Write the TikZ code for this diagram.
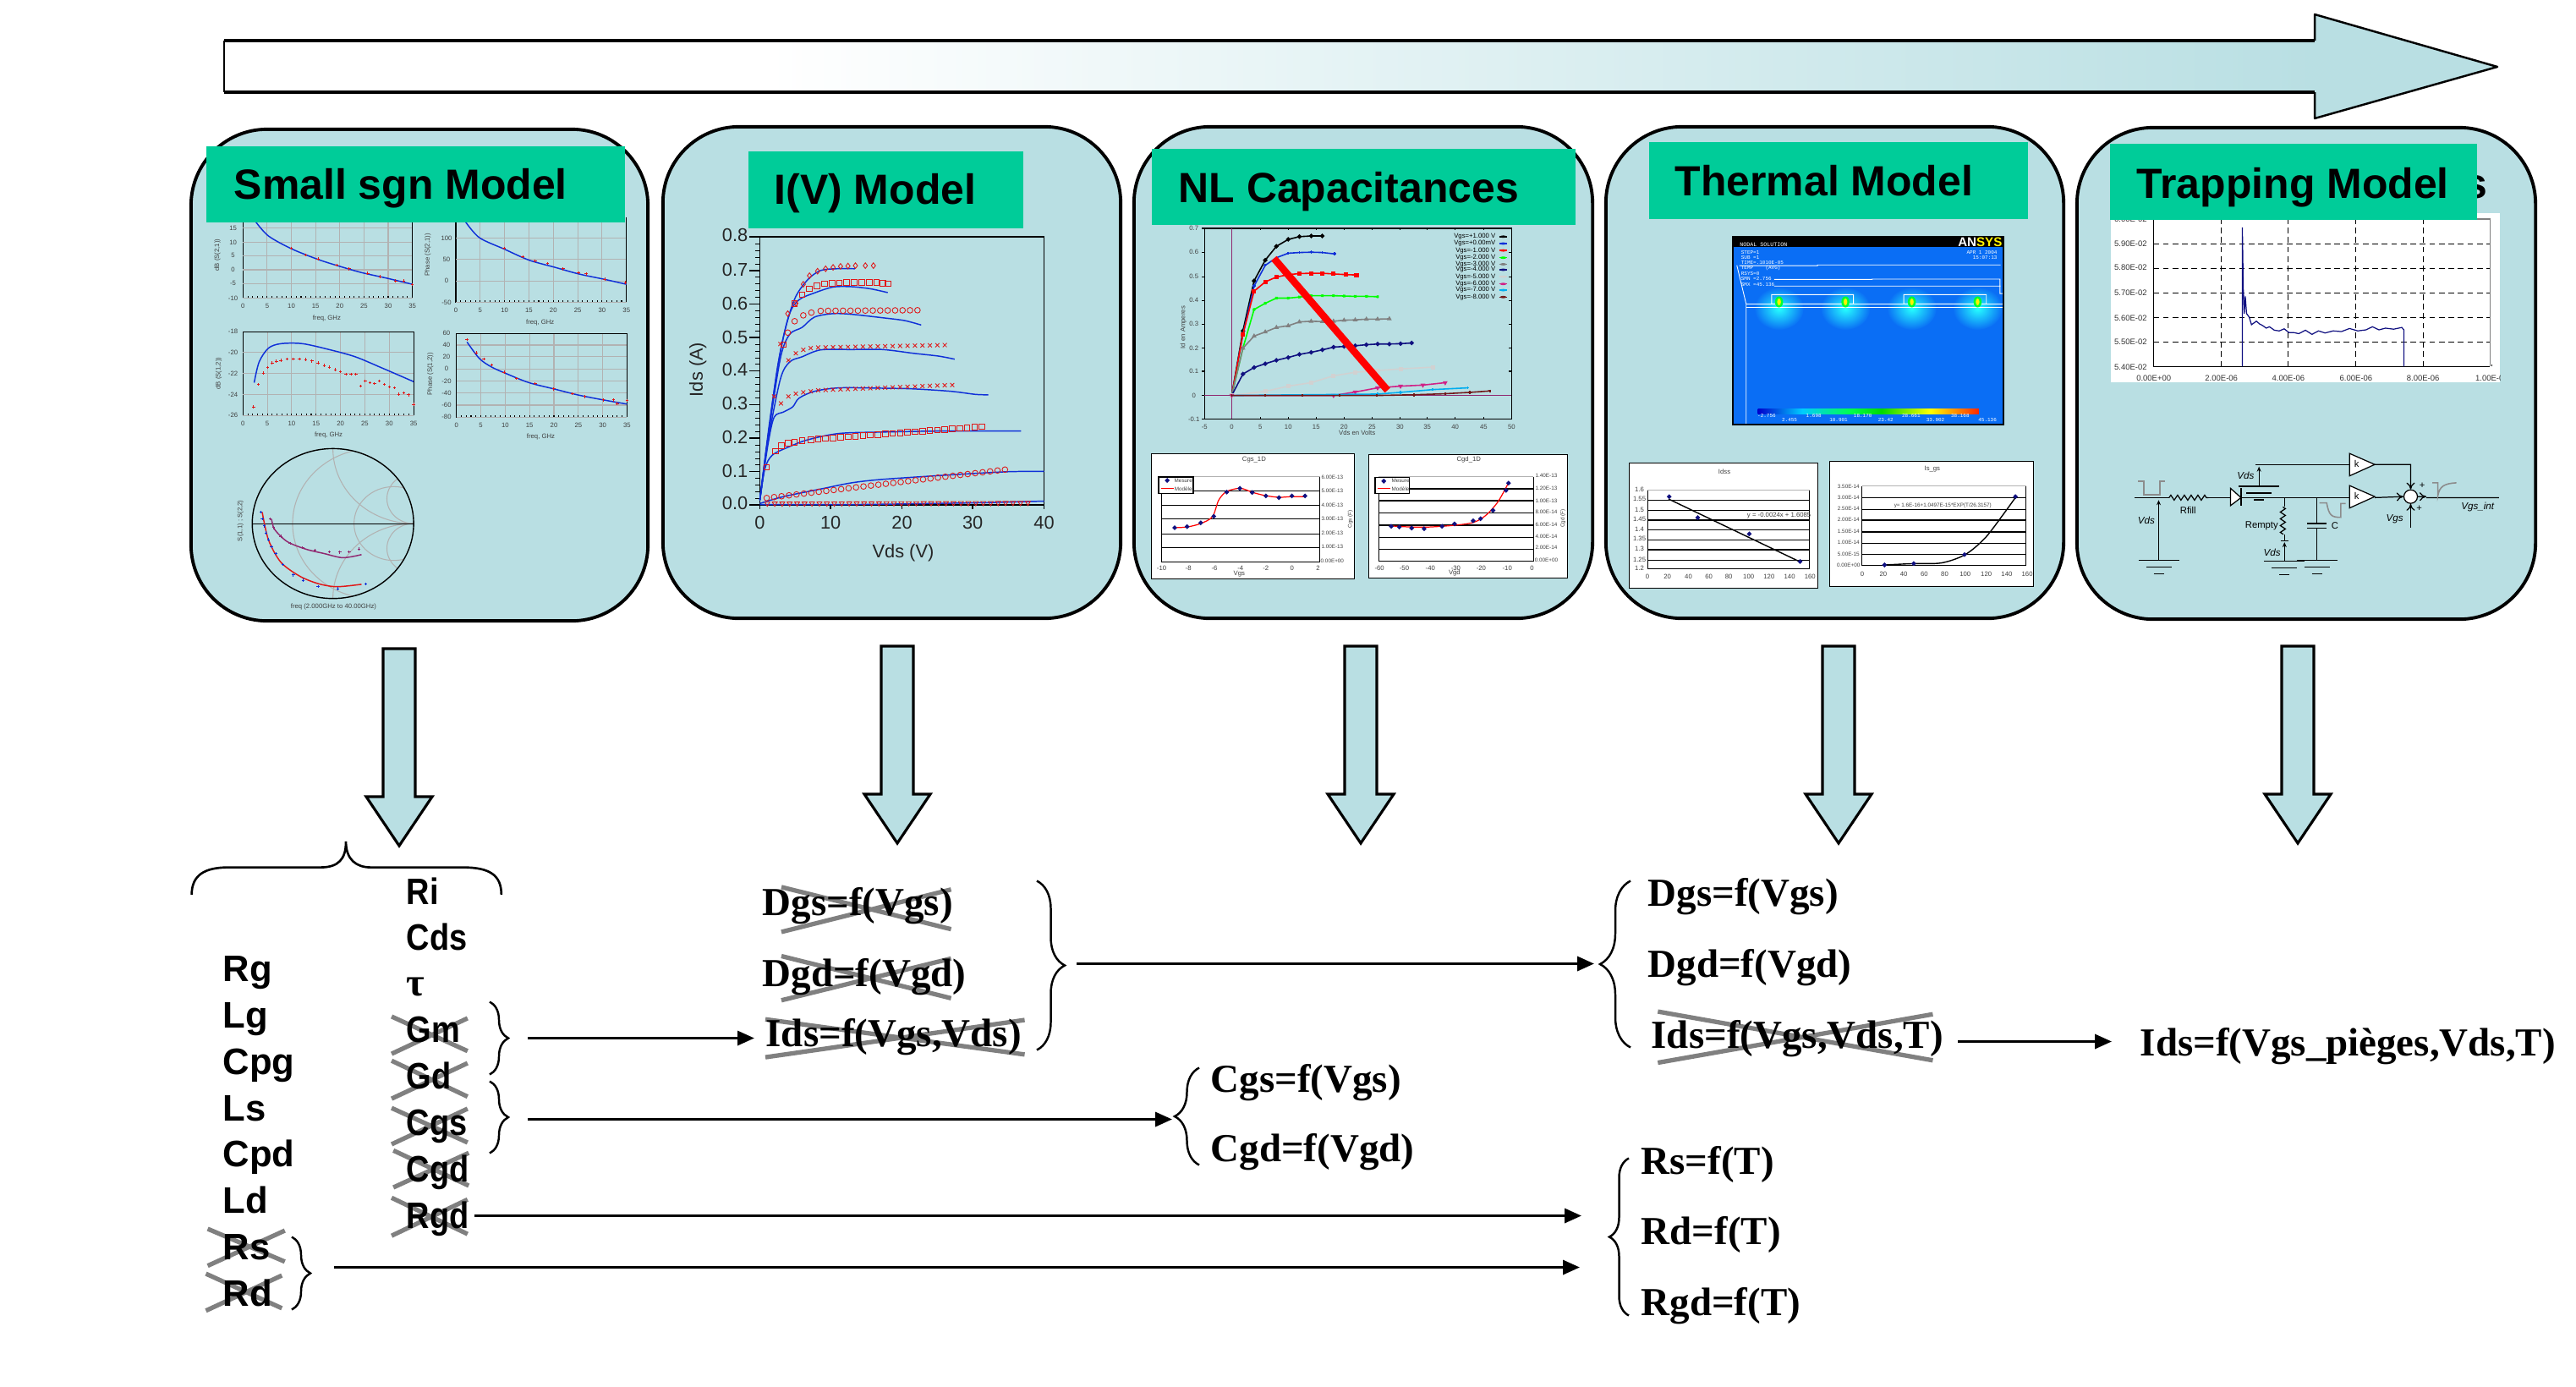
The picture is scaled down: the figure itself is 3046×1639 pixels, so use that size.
\documentclass[tikz,border=0pt]{standalone}
\usepackage{fontspec}
\setmainfont{Liberation Sans}
\setmonofont{Liberation Mono}
\newfontfamily\eqfont{Liberation Serif}
\usetikzlibrary{arrows.meta, plotmarks, decorations.pathreplacing, decorations.pathmorphing}

\definecolor{panelblue}{HTML}{B9DFE3}
\definecolor{titlegreen}{HTML}{00CC99}
\definecolor{curveblue}{HTML}{1030D8}
\definecolor{markred}{HTML}{E01818}
\definecolor{crossgray}{HTML}{808080}
\definecolor{ansysblue}{HTML}{0A6EF5}
\definecolor{navycurve}{HTML}{101080}
\definecolor{browncurve}{HTML}{701818}
\definecolor{purplecurve}{HTML}{902870}
\pgfdeclarehorizontalshading{ansysbar}{100bp}{color(0bp)=(blue!80!black); color(25bp)=(blue!80!black);
  color(35bp)=(cyan!80!blue); color(46bp)=(green!70!cyan); color(53bp)=(green!85!black); color(64bp)=(yellow); color(75bp)=(red!85!yellow); color(100bp)=(red)}

\begin{document}
\begin{tikzpicture}[
    x=.01cm, y=-.01cm,
    >=Stealth,
    line cap=butt,
    modelbox/.style={draw=black, fill=panelblue, line width=1.1pt, rounded corners=.9cm, inner sep=0pt},
    blockarrow/.style={draw=black, fill=panelblue, line width=.9pt, line join=miter},
    titletxt/.style={anchor=base west, inner sep=0pt, font=\fontsize{14.2}{16}\selectfont\bfseries},
    paramtxt/.style={anchor=base west, inner sep=0pt, font=\fontsize{12.4}{14}\selectfont\bfseries},
    paramnarrow/.style={paramtxt, xscale=.87, transform shape},
    eqtxt/.style={anchor=base west, inner sep=0pt, font=\eqfont\fontsize{13.35}{15}\selectfont\bfseries},
    crossline/.style={draw=crossgray, line width=1.5pt},
    flowarrow/.style={-{Triangle[length=.2cm,width=.17cm]}, line width=.95pt},
    curlybrace/.style={decorate, decoration={brace, amplitude=#1}, line width=.7pt},
    % scopes whose coordinates are read straight off the enlarged crops
    zoomA/.style={shift={(200,130)}, xscale=.7337, yscale=.4082},
    zoomB/.style={shift={(1320,130)}, xscale=.7337, yscale=.4082},
    zoomC/.style={shift={(2440,130)}, xscale=.3865, yscale=.4082},
    zoomD/.style={shift={(200,980)}, xscale=.7015, yscale=.4082},
    zoomE/.style={shift={(1300,1000)}, xscale=1.1135, yscale=.3954},
    % undoes the scale of zoomA and zoomB on plot marks
    markfix/.style={xscale=1.363, yscale=2.45},
    ticktxt/.style={inner sep=0pt, text=black!75, font=\fontsize{2.2}{2.6}\selectfont},
    charttick/.style={ticktxt, font=\fontsize{1.8}{2.2}\selectfont},
    gridgray/.style={draw=black!30, line width=.3pt},
    axisline/.style={draw=black, line width=.3pt},
    sline/.style={draw=curveblue, line width=.42pt},
    redplus/.style={draw=markred, line width=.25pt, mark size=.5pt, mark options={markfix}},
    ivmark/.style={color=markred, line width=.25pt, mark size=.95pt, mark options={markfix}},
    ivlabel/.style={inner sep=0pt, text=black!85, font=\fontsize{6.2}{7}\selectfont},
    nlcurve/.style={line width=.45pt, mark size=.5pt, mark options={markfix}},
    whitechart/.style={draw=black, fill=white, line width=.35pt},
    chartline/.style={draw=black, line width=.4pt},
    chartdot/.style={color=navycurve, mark size=.55pt, mark options={markfix}},
    circuitline/.style={draw=black, line width=.35pt},
    circuittxt/.style={inner sep=0pt, font=\fontsize{3.2}{4}\selectfont},
    gndsym/.pic={\draw[circuitline] (-24,0) -- (24,0) (-15,8) -- (15,8) (-6,16) -- (6,16);}
]
\useasboundingbox (0,0) rectangle (3046,1639);

% Big arrow on top
\fill[white] (265,48) rectangle (908,109);
\shade[left color=white, right color=panelblue] (908,48) rectangle (2737,109);
\fill[panelblue] (2737,17) -- (2953,79) -- (2737,140) -- cycle;
\draw[line width=1pt, line join=round] (2737,48) -- (265,48) (265,109) -- (2737,109);
\draw[line width=.3pt] (265,48) -- (265,109);
\draw[line width=.7pt, line join=round] (2737,48) -- (2737,17) -- (2953,79) -- (2737,140) -- (2737,109);

% Model panels
\foreach \nm/\cx/\cy/\bw/\bh in {S/496/443.5/5.40/5.81, V/1054.5/440.5/5.41/5.81, C/1612/440.5/5.42/5.81, T/2169.5/440.5/5.41/5.81, P/2727/441.5/5.42/5.81}
    \node[modelbox, minimum width=\bw cm, minimum height=\bh cm] (box\nm) at (\cx,\cy) {};

% Arrows under the panels
\foreach \ax/\ay/\by in {472/767/1000, 1061/764/997, 1609/764/997, 2174/764/997, 2717/764/997}
    \draw[blockarrow] ({\ax-19},\ay) -- ({\ax+19},\ay) -- ({\ax+19},{\by-58}) -- ({\ax+39},{\by-58})
        -- (\ax,\by) -- ({\ax-39},{\by-58}) -- ({\ax-19},{\by-58}) -- cycle;

% Small signal plots
\begin{scope}[zoomA]
    \foreach \xl/\xr/\yt/\yb/\tag/\flab in {119/392/310/545/a/254, 462/737/310/557/b/598, 119/394/642/885/c/257, 463/738/647/890/d/599} {
        \foreach \i in {0,...,7}
            \draw[gridgray] ({\xl+\i*(\xr-\xl)/7},\yt) -- ({\xl+\i*(\xr-\xl)/7},\yb);
        \draw[axisline] (\xl,\yt) -- (\xl,\yb) -- (\xr,\yb);
        \foreach \i in {0,...,35}
            \draw[axisline] ({\xl+\i*(\xr-\xl)/35},\yb) -- ++(0,-6);
        \foreach \v [count=\i from 0] in {0,5,...,35}
            \node[ticktxt] (tk\tag\i) at ({\xl+\i*(\xr-\xl)/7},{\yb+24}) {\v};
        \node[ticktxt] (freq\tag) at (\flab,{\yb+58}) {freq, GHz};
    }
    \foreach \v/\yy [count=\i] in {15/342, 10/383, 5/422, 0/463, -5/503, -10/545} {
        \draw[gridgray] (119,\yy) -- (392,\yy);
        \node[ticktxt] (lba\i) at (103,\yy) {\v};
    }
    \foreach \v/\yy [count=\i] in {100/372, 50/433, 0/495, -50/557} {
        \draw[gridgray] (462,\yy) -- (737,\yy);
        \node[ticktxt] (lbb\i) at (447,\yy) {\v};
    }
    \foreach \v/\yy [count=\i] in {-18/642, -20/702, -22/763, -24/824, -26/885} {
        \draw[gridgray] (119,\yy) -- (394,\yy);
        \node[ticktxt] (lbc\i) at (103,\yy) {\v};
    }
    \foreach \v/\yy [count=\i] in {60/647, 40/681, 20/715, 0/750, -20/786, -40/820, -60/855, -80/890} {
        \draw[gridgray] (463,\yy) -- (738,\yy);
        \node[ticktxt] (lbd\i) at (447,\yy) {\v};
    }
    \draw[axisline] (392,310) -- (392,545) (737,310) -- (737,557) (119,642) -- (394,642) -- (394,885) (463,647) -- (738,647) -- (738,890);
    \node[ticktxt, rotate=90] (ylaba) at (78,420) {dB (S(2,1))};
    \node[ticktxt, rotate=90] (ylabb) at (417,420) {Phase (S(2,1))};
    \node[ticktxt, rotate=90] (ylabc) at (80,763) {dB (S(1,2))};
    \node[ticktxt, rotate=90] (ylabd) at (421,765) {Phase (S(1,2))};

    \draw[sline] plot[smooth] coordinates {(140,325) (160,365) (197,402) (240,433) (275,453) (310,471) (350,487) (392,505)};
    \draw[redplus] plot[only marks, mark=+] coordinates {(197,400) (220,420) (240,431) (270,450) (290,460) (320,473) (340,483) (365,495) (378,495) (392,506)};
    \draw[sline] plot[smooth] coordinates {(478,325) (500,370) (540,403) (580,435) (620,455) (660,475) (700,490) (737,505)};
    \draw[redplus] plot[only marks, mark=+] coordinates {(540,400) (570,425) (590,437) (610,445) (635,460) (660,472) (672,475) (702,490) (735,500)};
    \draw[sline] plot[smooth] coordinates {(137,790) (145,730) (160,690) (180,677) (215,677) (260,695) (300,715) (340,745) (394,787)};
    \draw[redplus] plot[only marks, mark=+] coordinates {(136,860) (144,795) (152,762) (159,746) (166,733) (173,728) (180,725) (190,722) (200,722) (210,722) (220,723) (230,727) (240,733) (250,740) (258,745) (268,752) (276,758) (285,765) (293,765) (301,765) (309,800) (316,785) (324,790) (331,793) (339,785) (347,795) (355,802) (363,805) (370,823) (378,820) (386,825) (394,853)};
    \draw[sline] plot[smooth] coordinates {(480,672) (500,720) (520,745) (545,765) (580,790) (620,808) (660,826) (700,840) (738,852)};
    \draw[redplus] plot[only marks, mark=+] coordinates {(480,665) (495,703) (507,722) (520,738) (540,760) (560,778) (590,793) (620,808) (650,822) (670,830) (700,840) (716,840) (722,850) (738,841)};

    % Smith chart
    \begin{scope}
        \clip (264,1198) ellipse [x radius=1.3cm, y radius=2.17cm];
        \foreach \dx in {65,97,32}
            \draw[gridgray] ({394-\dx},1198) ellipse [x radius=\dx*.02cm, y radius=\dx*.0334cm];
        \foreach \sgn in {-1,1} {
            \draw[gridgray] (394,{1198+\sgn*217}) ellipse [x radius=1.3cm, y radius=2.17cm];
            \draw[gridgray] (394,{1198+\sgn*72}) ellipse [x radius=.43cm, y radius=.72cm];
        }
    \end{scope}
    \draw[line width=.4pt] (264,1198) ellipse [x radius=1.3cm, y radius=2.17cm];
    \draw[line width=.3pt] (134,1198) -- (394,1198);
    \draw[draw=markred, line width=.42pt] plot[smooth] coordinates {(150,1165) (160,1245) (180,1310) (210,1350) (240,1372) (270,1381) (310,1374)};
    \draw[draw=purplecurve, line width=.42pt] plot[smooth] coordinates {(165,1185) (170,1215) (190,1250) (220,1272) (250,1285) (280,1297) (310,1288)};
    \draw[redplus, draw=curveblue] plot[only marks, mark=+] coordinates {(148,1165) (150,1185) (153,1205) (156,1225) (160,1245) (165,1265) (172,1285) (183,1317) (200,1347) (216,1362) (240,1380) (272,1387) (317,1373)};
    \draw[redplus, draw=purplecurve] plot[only marks, mark=+] coordinates {(163,1185) (168,1210) (180,1235) (195,1255) (215,1268) (235,1275) (258,1280) (275,1281) (290,1280) (306,1272)};
    \node[ticktxt, rotate=90] (ylabsm) at (115,1190) {S(1,1) ; S(2,2)};
    \node[ticktxt] (freqsm) at (265,1438) {freq (2.000GHz to 40.00GHz)};
\end{scope}

% I(V) plot
\begin{scope}[zoomA]
    \draw[line width=.3pt] (952,368) -- (952,1145) (1410,368) -- (1410,1145);
    \draw[line width=.6pt] (935,368) -- (1410,368) (935,1145) -- (1410,1145);
    \foreach \v/\yy [count=\i] in {0.8/363, 0.7/462, 0.6/560, 0.5/658, 0.4/753, 0.3/850, 0.2/948, 0.1/1045, 0.0/1140} {
        \node[ivlabel] (ivy\i) at (912,\yy) {\v};
        \draw[line width=.4pt] (935,{368+(\i-1)*97.1}) -- (952,{368+(\i-1)*97.1});
    }
    \foreach \i in {0,...,40}
        \draw[line width=.25pt] (944,{368+\i*19.43}) -- (952,{368+\i*19.43});
    \foreach \v/\xx [count=\i] in {0/952, 10/1066, 20/1181, 30/1295, 40/1410} {
        \node[ivlabel] (ivx\i) at (\xx,1195) {\v};
        \draw[line width=.4pt] (\xx,1145) -- (\xx,1156);
    }
    \node[ivlabel] (vdslab) at (1183,1283) {Vds (V)};
    \node[ivlabel, rotate=90] (idslab) at (852,752) {Ids (A)};

    \draw[sline] plot[smooth] coordinates {(952,1130) (965,950) (980,750) (995,620) (1010,540) (1030,490) (1050,465) (1075,460) (1105,460)};
    \draw[sline] plot[smooth] coordinates {(952,1130) (968,900) (985,700) (1000,590) (1015,550) (1040,530) (1070,513) (1100,512) (1130,518) (1158,529)};
    \draw[sline] plot[smooth] coordinates {(952,1130) (965,950) (985,720) (1000,650) (1020,630) (1040,600) (1070,590) (1100,592) (1150,602) (1185,610) (1212,623)};
    \draw[sline] plot[smooth] coordinates {(952,1130) (965,960) (985,780) (1000,730) (1020,715) (1050,695) (1100,694) (1150,694) (1200,705) (1240,713) (1266,722)};
    \draw[sline] plot[smooth] coordinates {(952,1130) (965,970) (975,890) (990,875) (1005,860) (1015,835) (1040,815) (1080,805) (1150,806) (1200,808) (1260,815) (1300,824) (1320,825)};
    \draw[sline] plot[smooth] coordinates {(952,1130) (960,1040) (972,1000) (1000,975) (1030,955) (1080,937) (1150,933) (1250,930) (1373,930)};
    \draw[sline] plot[smooth] coordinates {(952,1140) (990,1120) (1050,1098) (1100,1080) (1150,1070) (1250,1058) (1350,1048) (1410,1047)};
    \draw[sline] plot[smooth] coordinates {(952,1143) (1100,1143) (1300,1138) (1410,1133)};

    \draw[ivmark] plot[only marks, mark=diamond] coordinates {(997,590) (1010,560) (1022,505) (1032,480) (1045,467) (1058,460) (1070,456) (1082,453) (1094,452) (1106,451) (1122,451) (1135,451)};
    \draw[ivmark] plot[only marks, mark=square] coordinates {(990,680) (1008,560) (1020,535) (1032,518) (1044,510) (1056,503) (1068,502) (1080,501) (1092,500) (1104,499) (1116,499) (1128,499) (1140,500) (1150,502) (1158,503)};
    \draw[ivmark] plot[only marks, mark=o] coordinates {(997,645) (1008,612) (1022,595) (1035,587)};
    \draw[ivmark] plot[only marks, mark=o, samples at={1050,1062,...,1215}] (\x,{582-(\x-1050)*.012});
    \draw[ivmark] plot[only marks, mark=x] coordinates {(985,678) (998,725) (1010,705) (1022,695) (1034,690)};
    \draw[ivmark] plot[only marks, mark=x, samples at={1046,1058,...,1250}] (\x,{688-(\x-1046)*.034});
    \draw[ivmark] plot[only marks, mark=x] coordinates {(975,830) (986,850) (998,830) (1010,822) (1022,818) (1034,815)};
    \draw[ivmark] plot[only marks, mark=x, samples at={1046,1058,...,1272}] (\x,{812-(\x-1046)*.071});
    \draw[ivmark] plot[only marks, mark=square] coordinates {(963,1035) (977,988) (987,972) (998,965) (1008,962) (1020,958)};
    \draw[ivmark] plot[only marks, mark=square, samples at={1034,1046,...,1318}] (\x,{955-(\x-1034)*.137});
    \draw[ivmark] plot[only marks, mark=o, samples at={963,975,...,1355}] (\x,{1124-(\x-963)*.214});
    \draw[ivmark] plot[only marks, mark=triangle, mark options={markfix, rotate=180}, samples at={964,976,...,1385}] (\x,{1140-(\x-964)*.005});
\end{scope}

% NL capacitance plots
\begin{scope}[zoomB]
    \draw[axisline] (142,343) rectangle (637,895);
    \foreach \v/\yy [count=\i] in {0.7/343, 0.6/412, 0.5/483, 0.4/552, 0.3/620, 0.2/690, 0.1/757, 0/827, -0.1/895} {
        \node[ticktxt] (nly\i) at (125,\yy) {\v};
        \draw[axisline] (142,\yy) -- ++(-4,0) (637,\yy) -- ++(-4,0);
    }
    \foreach \v/\xx [count=\i] in {-5/142, 0/186, 5/232, 10/277, 15/322, 20/367, 25/412, 30/457, 35/501, 40/546, 45/592, 50/637} {
        \node[ticktxt] (nlx\i) at (\xx,918) {\v};
        \draw[axisline] (\xx,895) -- ++(0,-5) (\xx,343) -- ++(0,5);
    }
    \node[ticktxt] (nlxlab) at (388,935) {Vds en Volts};
    \node[ticktxt, rotate=90] (nlylab) at (108,630) {Id en Amperes};
    \draw[draw=purplecurve, line width=.35pt] (186,343) -- (186,895) (142,827) -- (637,827);

    \draw[nlcurve, color=black] plot[mark=*] coordinates {(186,827) (204,640) (222,495) (240,435) (258,395) (277,375) (295,367) (314,365) (332,365)};
    \draw[nlcurve, color=curveblue] plot[mark=+] coordinates {(186,827) (204,650) (222,510) (240,450) (258,428) (277,415) (295,413) (314,412) (332,413) (352,417)};
    \draw[nlcurve, color=red] plot[mark=square*] coordinates {(186,827) (204,650) (222,525) (240,498) (258,484) (277,477) (295,474) (314,473) (332,473) (350,475) (370,477) (387,478)};
    \draw[nlcurve, color=green] plot[mark=x] coordinates {(186,827) (204,690) (222,578) (240,560) (258,545) (277,545) (295,542) (314,538) (332,538) (350,538) (367,539) (385,540) (403,540) (421,541)};
    \draw[nlcurve, color=gray] plot[mark=triangle*] coordinates {(186,827) (204,690) (222,655) (240,643) (258,630) (277,625) (295,614) (314,612) (332,613) (350,612) (367,609) (385,608) (403,606) (421,606) (440,605)};
    \draw[nlcurve, color=navycurve] plot[mark=*] coordinates {(186,827) (204,765) (222,746) (240,735) (258,725) (277,717) (295,708) (314,702) (332,695) (350,687) (367,685) (385,683) (403,680) (421,678) (440,678) (458,677) (476,675)};
    \draw[nlcurve, color=black!18] plot[mark=square*] coordinates {(186,827) (240,815) (277,800) (314,790) (350,770) (385,760) (421,755) (458,750) (510,745)};
    \draw[nlcurve, color=magenta!85!black] plot[mark=triangle*, mark options={markfix, rotate=180}] coordinates {(186,827) (350,827) (385,817) (421,805) (458,800) (494,797) (530,790)};
    \draw[nlcurve, color=cyan] plot[mark=+] coordinates {(186,827) (421,823) (458,818) (510,810) (566,805)};
    \draw[nlcurve, color=browncurve] plot[mark=+] coordinates {(186,827) (240,827) (300,827) (360,827) (420,827) (480,825) (530,822) (570,818) (602,814)};

    \foreach \v/\yy/\col [count=\i] in {+1.000 V/367/black, +0.00mV/387/curveblue, -1.000 V/407/red, -2.000 V/428/green, -3.000 V/447/gray, -4.000 V/463/navycurve, -5.000 V/483/black!18, -6.000 V/504/magenta!85!black, -7.000 V/522/cyan, -8.000 V/542/browncurve} {
        \node[ticktxt, anchor=east, text=black] (legv\i) at (612,\yy) {Vgs=\v};
        \draw[color=\col, line width=.4pt] (617,\yy) -- (630,\yy);
        \fill[color=\col] (623.5,\yy) ellipse [x radius=.05cm, y radius=.035cm];
    }
    % red slope
    \draw[draw=red, line width=2.4pt] (254,430) -- (437,812);

    % Cgs chart
    \draw[whitechart] (57,996) rectangle (384,1358);
    \node[ticktxt] (cgst) at (222,1012) {Cgs\_1D};
    \draw[gridgray] (73,1063) -- (328,1063);
    \foreach \yy in {1103,1145,1185,1228,1268}
        \draw[chartline] (73,\yy) -- (328,\yy);
    \draw[axisline] (73,1063) -- (73,1310) -- (328,1310) -- (328,1063);
    \foreach \v/\yy [count=\i] in {6.00E-13/1063, 5.00E-13/1103, 4.00E-13/1145, 3.00E-13/1185, 2.00E-13/1225, 1.00E-13/1264, 0.00E+00/1307}
        \node[charttick] (cgsy\i) at (348,\yy) {\v};
    \foreach \v/\xx [count=\i] in {-10/73, -8/116, -6/158, -4/200, -2/241, 0/283, 2/325}
        \node[ticktxt] (cgsx\i) at (\xx,1328) {\v};
    \node[ticktxt] (cgsxl) at (198,1343) {Vgs};
    \node[charttick, rotate=90] (cgsyl) at (377,1185) {Cgs (F)};
    \draw[draw=red, line width=.35pt] plot[smooth] coordinates {(94,1210) (114,1208) (136,1198) (155,1178) (165,1130) (178,1105) (200,1096) (220,1108) (240,1117) (262,1122) (283,1120) (305,1120)};
    \draw[chartdot] plot[only marks, mark=*] coordinates {(94,1210) (114,1207) (136,1196) (157,1177) (178,1107) (199,1096) (219,1108) (241,1118) (262,1123) (283,1118) (304,1118)};
    \draw[whitechart] (68,1063) rectangle (124,1110);
    \node[charttick] (cgslm) at (108,1073) {Mesure};
    \node[charttick] (cgslt) at (108,1098) {Modèle};
    \draw[chartdot] plot[only marks, mark=*] coordinates {(82,1073)};
    \draw[draw=red, line width=.35pt] (72,1097) -- (92,1097);

    % Cgd chart
    \draw[whitechart] (407,998) rectangle (727,1356);
    \node[ticktxt] (cgdt) at (568,1014) {Cgd\_1D};
    \draw[gridgray] (423,1063) -- (672,1063);
    \foreach \yy in {1097,1132,1167,1203,1238,1273}
        \draw[chartline] (423,\yy) -- (672,\yy);
    \draw[axisline] (423,1063) -- (423,1308) -- (672,1308) -- (672,1063);
    \foreach \v/\yy [count=\i] in {1.40E-13/1060, 1.20E-13/1095, 1.00E-13/1132, 8.00E-14/1165, 6.00E-14/1200, 4.00E-14/1235, 2.00E-14/1268, 0.00E+00/1303}
        \node[charttick] (cgdy\i) at (693,\yy) {\v};
    \foreach \v/\xx [count=\i] in {-60/424, -50/464, -40/506, -30/547, -20/588, -10/630, 0/670}
        \node[ticktxt] (cgdx\i) at (\xx,1328) {\v};
    \node[ticktxt] (cgdxl) at (545,1340) {Vgd};
    \node[charttick, rotate=90] (cgdyl) at (720,1183) {Cgd (F)};
    \draw[draw=red, line width=.35pt] plot[smooth] coordinates {(443,1205) (475,1208) (505,1208) (545,1203) (575,1195) (595,1175) (615,1135) (632,1080)};
    \draw[chartdot] plot[only marks, mark=*] coordinates {(443,1206) (456,1208) (476,1211) (496,1213) (525,1206) (545,1199) (575,1190) (587,1184) (607,1160) (628,1102) (632,1081)};
    \draw[whitechart] (417,1064) rectangle (472,1110);
    \node[charttick] (cgdlm) at (458,1073) {Mesure};
    \node[charttick] (cgdlt) at (458,1098) {Modèle};
    \draw[chartdot] plot[only marks, mark=*] coordinates {(431,1075)};
    \draw[draw=red, line width=.35pt] (421,1097) -- (441,1097);
\end{scope}

% Thermal model
\begin{scope}[zoomB]
    \fill[ansysblue] (994,367) rectangle (1430,912);
    \fill[black] (994,367) rectangle (1430,398);
    \foreach \hx in {1068,1175,1282,1388} {
        \shade[inner color=cyan!85!white, outer color=ansysblue] (\hx,575) ellipse [x radius=.4cm, y radius=.62cm];
    }
    \draw[draw=white, line width=.25pt] (1015,562) -- (1015,912) (1015,572) -- (1430,572) (1000,450) -- (1015,562)
        (1004,451) -- (1130,451) -- (1130,449) -- (1425,449) (1060,491) -- (1218,491) -- (1218,490) -- (1424,490) -- (1424,532) -- (1430,532)
        (1060,510) -- (1425,510) (1056,535) rectangle (1188,562) (1269,535) rectangle (1402,562);
    \draw[draw=white, line width=.5pt] (1015,562) -- (1430,562);
    \foreach \hx in {1068,1175,1282,1388} {
        \fill[green!80!cyan] (\hx,556) ellipse [x radius=.065cm, y radius=.16cm];
        \fill[yellow] (\hx,556) ellipse [x radius=.03cm, y radius=.1cm];
    }
    \draw[line width=.5pt] (994,367) rectangle (1430,912);
    \node[inner sep=0pt, anchor=west, text=white, font=\ttfamily\fontsize{1.9}{2}\selectfont] (nodal) at (1004,389) {NODAL SOLUTION};
    \node[inner sep=0pt, text=white, font=\fontsize{4.3}{5}\selectfont\bfseries] (ansyslogo) at (1392,384) {AN\textcolor{yellow}{SYS}};
    \foreach \v/\yy [count=\i] in {STEP=1/412, SUB =1/428, TIME=.1010E-05/443, TEMP~~~~(AVG)/459, RSYS=0/475, SMN =2.756/490, SMX =45.136/505}
        \node[inner sep=0pt, anchor=west, text=white, font=\ttfamily\fontsize{1.7}{2}\selectfont] (ans\i) at (1006,\yy) {\v};
    \node[inner sep=0pt, text=white, font=\ttfamily\fontsize{1.7}{2}\selectfont] (ansdate) at (1395,412) {APR  1 2004};
    \node[inner sep=0pt, text=white, font=\ttfamily\fontsize{1.7}{2}\selectfont] (anstime) at (1400,428) {15:07:13};
    \shade[shading=ansysbar] (1034,865) rectangle (1390,880);
    \foreach \v/\xx/\yy [count=\i] in {-2.756/1048/886, 2.455/1085/899, 1.698/1124/886, 10.901/1164/899, 18.170/1203/886, 23.42/1240/899, 28.661/1281/886, 33.902/1320/899, 38.168/1360/886, 45.136/1404/899}
        \node[inner sep=0pt, text=white, font=\ttfamily\fontsize{1.7}{2}\selectfont] (ansbar\i) at (\xx,\yy) {\v};

    % Idss chart
    \draw[whitechart] (827,1023) rectangle (1131,1385);
    \node[ticktxt] (idsst) at (980,1049) {Idss};
    \draw[gridgray] (856,1102) -- (1117,1102);
    \foreach \yy in {1130,1160,1188,1216,1245,1274,1304}
        \draw[chartline] (856,\yy) -- (1117,\yy);
    \draw[axisline] (856,1102) -- (856,1328) -- (1117,1328) -- (1117,1102);
    \foreach \v/\yy [count=\i] in {1.6/1100, 1.55/1127, 1.5/1158, 1.45/1186, 1.4/1215, 1.35/1242, 1.3/1272, 1.25/1302, 1.2/1328}
        \node[ticktxt] (idssy\i) at (843,\yy) {\v};
    \foreach \v/\xx [count=\i] in {0/856, 20/888, 40/922, 60/955, 80/987, 100/1019, 120/1052, 140/1085, 160/1118}
        \node[ticktxt] (idssx\i) at (\xx,1351) {\v};
    \draw[chartline] (890,1127) -- (1103,1310);
    \draw[chartdot] plot[only marks, mark=*] coordinates {(891,1120) (937,1181) (1020,1228) (1102,1308)};
    \node[ticktxt] (idsseq) at (1068,1176) {y = -0.0024x + 1.6085};

    % Is_gs chart
    \draw[whitechart] (1150,1018) rectangle (1478,1380);
    \node[ticktxt] (isgst) at (1315,1040) {Is\_gs};
    \draw[gridgray] (1202,1090) -- (1466,1090);
    \foreach \yy in {1123,1157,1188,1222,1255,1288}
        \draw[chartline] (1202,\yy) -- (1466,\yy);
    \draw[axisline] (1202,1090) -- (1202,1320) -- (1466,1320) -- (1466,1090);
    \foreach \v/\yy [count=\i] in {3.50E-14/1090, 3.00E-14/1122, 2.50E-14/1155, 2.00E-14/1187, 1.50E-14/1220, 1.00E-14/1252, 5.00E-15/1287, 0.00E+00/1318}
        \node[charttick] (isgsy\i) at (1180,\yy) {\v};
    \foreach \v/\xx [count=\i] in {0/1202, 20/1236, 40/1269, 60/1302, 80/1335, 100/1368, 120/1402, 140/1435, 160/1468}
        \node[ticktxt] (isgsx\i) at (\xx,1344) {\v};
    \draw[chartline] plot[smooth] coordinates {(1238,1318) (1285,1314) (1330,1312) (1368,1288) (1400,1240) (1430,1170) (1450,1120)};
    \draw[chartdot] plot[only marks, mark=*] coordinates {(1238,1318) (1285,1314) (1367,1288) (1449,1120)};
    \node[charttick] (isgseq) at (1332,1146) {y= 1.6E-16+1.0497E-15*EXP(T/26.3157)};
\end{scope}

% Trapping model
\begin{scope}[zoomC]
    \fill[white] (145,298) rectangle (1336,788);
    \draw[draw=black!50, line width=.3pt] (275,316) -- (1305,316) -- (1305,743);
    \draw[line width=.4pt] (275,316) -- (275,743) -- (1305,743);
    \foreach \yy in {388,459,530,601,672}
        \draw[line width=.35pt, dash pattern=on 1.9pt off 1.3pt] (275,\yy) -- (1305,\yy);
    \foreach \xx in {482,687,893,1101}
        \draw[line width=.35pt, dash pattern=on 1.9pt off 1.3pt] (\xx,743) -- (\xx,316);
    \foreach \v/\yy [count=\i] in {6.00E-02/316, 5.90E-02/388, 5.80E-02/457, 5.70E-02/530, 5.60E-02/603, 5.50E-02/672, 5.40E-02/745}
        \node[ticktxt, anchor=east, text=black!80, font=\fontsize{2.7}{3}\selectfont] (trpy\i) at (257,\yy) {\v};
    \begin{scope}
        \clip (145,298) rectangle (1336,788);
        \foreach \v/\xx [count=\i] in {0.00E+00/276, 2.00E-06/483, 4.00E-06/688, 6.00E-06/895, 8.00E-06/1100, 1.00E-05/1310} {
            \node[ticktxt, text=black!80, font=\fontsize{2.7}{3}\selectfont] (trpx\i) at (\xx,777) {\v};
            \draw[axisline] (\xx,743) -- ++(0,-6);
        }
    \end{scope}
    \draw[draw=navycurve, line width=.35pt] (547,743) -- (547,340) -- (550,520) -- (553,590) -- (556,540) -- (560,590) -- (568,600) -- (575,622) -- (590,612) -- (600,620) -- (610,625) -- (620,632) -- (630,628) -- (645,638) -- (660,640) -- (675,634) -- (690,645) -- (705,645) -- (720,648) -- (740,638) -- (760,650) -- (780,640) -- (800,646) -- (825,640) -- (850,642) -- (875,633) -- (900,640) -- (925,637) -- (945,628) -- (965,637) -- (985,632) -- (1010,635) -- (1035,630) -- (1041,637) -- (1041,743);

    % Circuit
    \draw[circuitline] (218,1123) -- (323,1123);
    \draw[circuitline, decorate, decoration={zigzag, segment length=.08cm, amplitude=.03cm}] (323,1123) -- (443,1123);
    \draw[circuitline] (443,1123) -- (511,1123);
    \draw[circuitline, fill=white] (511,1096) -- (511,1146) -- (543,1123) -- cycle;
    \draw[circuitline] (543,1096) -- (543,1146) (543,1123) -- (875,1123);
    \draw[circuitline] (587,1027) -- (875,1027);
    \draw[circuitline, fill=white] (875,995) -- (952,1027) -- (875,1060) -- cycle;
    \draw[circuitline, fill=white] (875,1088) -- (952,1120) -- (875,1153) -- cycle;
    \node[circuittxt] (kA) at (897,1026) {k};
    \node[circuittxt] (kB) at (897,1119) {k};
    \node[circle, draw=black, fill=white, line width=.35pt, inner sep=0pt, minimum size=.16cm] (sumj) at (1062,1120) {};
    \draw[circuitline, -{To[length=.08cm,width=.1cm]}] (952,1027) -- (1062,1027) -- (sumj.north);
    \draw[circuitline, -{To[length=.08cm,width=.1cm]}] (952,1123) -- (sumj.west);
    \coordinate (vgsfoot) at (1062,1210);
    \draw[circuitline, -{To[length=.08cm,width=.1cm]}] (vgsfoot) -- (sumj.south);
    \coordinate (outend) at (1332,1123);
    \draw[circuitline, -{To[length=.08cm,width=.1cm]}] (sumj.east) -- (1110,1120);
    \draw[circuitline] (1110,1123) -- (outend);
    \node[circuittxt] (plusA) at (1097,1088) {+};
    \node[circuittxt] (plusB) at (1088,1155) {+};
    \node[circuittxt, font=\fontsize{3.3}{4}\selectfont\itshape] (vdsA) at (253,1190) {Vds};
    \draw[circuitline, -{Stealth[length=.06cm,width=.05cm]}] (291,1305) -- (291,1130);
    \pic at (291,1305) {gndsym};
    \node[circuittxt] (rfill) at (381,1160) {Rfill};
    \node[circuittxt, font=\fontsize{3.3}{4}\selectfont\itshape] (vdsB) at (557,1060) {Vds};
    \draw[circuitline, -{Stealth[length=.06cm,width=.05cm]}] (598,1090) -- (598,1033);
    \pic at (598,1090) {gndsym};
    \draw[circuitline] (676,1123) -- (676,1150);
    \draw[circuitline, decorate, decoration={zigzag, segment length=.08cm, amplitude=.03cm}] (671,1150) -- (671,1230);
    \draw[circuitline] (676,1230) -- (676,1248) (664,1248) -- (688,1248);
    \node[circuittxt] (rempty) at (606,1204) {Rempty};
    \draw[circuitline, -{Stealth[length=.06cm,width=.05cm]}] (676,1306) -- (676,1252);
    \node[circuittxt, font=\fontsize{3.3}{4}\selectfont\itshape] (vdsC) at (638,1281) {Vds};
    \pic at (676,1306) {gndsym};
    \draw[circuitline] (775,1123) -- (775,1198) (745,1198) -- (805,1198) (745,1212) -- (805,1212) (775,1212) -- (775,1305);
    \pic at (775,1305) {gndsym};
    \node[circuittxt] (capc) at (830,1204) {C};
    \draw[draw=black!45, line width=.45pt] (228,1075) -- (245,1075) -- (245,1115) -- (295,1115) -- (295,1075) -- (310,1075);
    \draw[draw=black!45, line width=.45pt] (783,1138) -- (805,1138) .. controls (812,1175) and (820,1180) .. (848,1180) -- (848,1140) -- (863,1140);
    \draw[draw=black!45, line width=.45pt] (1128,1080) -- (1145,1080) -- (1145,1118) .. controls (1150,1090) and (1165,1082) .. (1202,1080);
    \node[circuittxt, font=\fontsize{3.3}{4}\selectfont\itshape] (vgsc) at (1013,1186) {Vgs};
    \node[circuittxt, font=\fontsize{3.3}{4}\selectfont\itshape] (vgsint) at (1267,1149) {Vgs\_int};
\end{scope}

% hidden end of an older title, sticks out of the green band
\node[titletxt, anchor=base east] (titleold) at (2942,234) {s};

% Title bands
\foreach \nm/\xa/\ya/\xb/\yb/\tx/\ty/\txt in {S/244/173/739/263/276/235/{Small sgn Model}, V/885/179/1210/270/915/241/{I(V) Model}, C/1362/176/1863/266/1393/239/{NL Capacitances}, T/1950/168/2398/259/1980/231/{Thermal Model}, P/2495/170/2929/260/2526/234/{Trapping Model}} {
    \fill[titlegreen] (\xa,\ya) rectangle (\xb,\yb);
    \node[titletxt] (title\nm) at (\tx,\ty) {\txt};
}

\begin{scope}[yshift=-.015cm]
% Crossed out items
\begin{scope}[zoomD]
    \foreach \xa/\ya/\xb/\yb/\xc/\yc/\xd/\yd in {65/1155/195/1250/65/1262/195/1160, 62/1285/190/1385/62/1392/190/1290,
        375/540/503/640/375/648/503/545, 375/668/503/772/375/778/503/675, 375/805/503/905/375/910/503/807,
        378/928/505/1030/378/1035/505/935, 375/1065/503/1170/375/1175/503/1070,
        1032/165/1318/287/1032/295/1318/172, 1032/365/1318/487/1032/493/1318/372, 1005/548/1442/650/1005/658/1442/550}
        \draw[crossline] (\xa,\ya) -- (\xb,\yb) (\xc,\yc) -- (\xd,\yd);
    % large brace on top
    \draw[line width=.75pt] (38,187) .. controls (38,130) and (60,108) .. (100,108) -- (255,108) .. controls (285,108) and (298,85) .. (298,33)
        .. controls (298,85) and (315,108) .. (340,108) -- (495,108) .. controls (540,108) and (560,130) .. (560,187);
\end{scope}
\begin{scope}[zoomE]
    \draw[crossline] (593,492) -- (885,638) (593,645) -- (885,500);
\end{scope}

% Parameters
\foreach \nm/\ly in {Rg/1159, Lg/1214, Cpg/1269, Ls/1324, Cpd/1378, Ld/1433, Rs/1488, Rd/1543}
    \node[paramtxt] (\nm) at (263,\ly) {\nm};
\foreach \nm/\ly in {Ri/1068, Cds/1122, Gm/1231, Gd/1286, Cgs/1341, Cgd/1396, Rgd/1451}
    \node[paramnarrow] (\nm) at (480,\ly) {\nm};
\node[eqtxt] (tau) at (480,1176) {τ};

% Equations
\node[eqtxt] (dgsA) at (901,1081) {Dgs=f(Vgs)};
\node[eqtxt] (dgdA) at (901,1165) {Dgd=f(Vgd)};
\node[eqtxt] (idsA) at (905,1236) {Ids=f(Vgs,Vds)};
\node[eqtxt] (dgsB) at (1948,1070) {Dgs=f(Vgs)};
\node[eqtxt] (dgdB) at (1948,1154) {Dgd=f(Vgd)};
\node[eqtxt] (idsB) at (1952,1238) {Ids=f(Vgs,Vds,T)};
\node[eqtxt] (idsC) at (2530,1247) {Ids=f(Vgs\_pièges,Vds,T)};
\node[eqtxt] (cgsB) at (1431,1290) {Cgs=f(Vgs)};
\node[eqtxt] (cgdB) at (1431,1372) {Cgd=f(Vgd)};
\node[eqtxt] (rsB) at (1940,1387) {Rs=f(T)};
\node[eqtxt] (rdB) at (1940,1470) {Rd=f(T)};
\node[eqtxt] (rgdB) at (1940,1554) {Rgd=f(T)};

% Braces
\draw[curlybrace=.22cm] (579,1183) -- (579,1269);
\draw[curlybrace=.22cm] (579,1277) -- (579,1362);
\draw[curlybrace=.22cm] (345,1461) -- (345,1547);
\draw[curlybrace=.33cm] (1226,1040) -- (1226,1240);
\draw[curlybrace=.36cm] (1928,1237) -- (1928,1040);
\draw[curlybrace=.29cm] (1418,1376) -- (1418,1261);
\draw[curlybrace=.23cm] (1926,1554) -- (1926,1368);

% Connectors
\coordinate (gmOut) at (624,1226);
\coordinate (cgOut) at (624,1322);
\coordinate (capIn) at (1386,1322);
\coordinate (rgdOut) at (561,1436);
\coordinate (rthInA) at (1870,1436);
\coordinate (rsOut) at (395,1497);
\coordinate (rthInB) at (1868,1497);
\coordinate (dIdsOut) at (1273,1138);
\coordinate (dIdsIn) at (1885,1138);
\coordinate (idsOut) at (2315,1230);
\coordinate (idsIn) at (2497,1230);
\coordinate (idsAin) at (892,1226);
\draw[flowarrow] (gmOut) -- (idsAin);
\draw[flowarrow] (cgOut) -- (capIn);
\draw[flowarrow] (rgdOut) -- (rthInA);
\draw[flowarrow] (rsOut) -- (rthInB);
\draw[flowarrow] (dIdsOut) -- (dIdsIn);
\draw[flowarrow] (idsOut) -- (idsIn);
\end{scope}

\end{tikzpicture}
\end{document}
